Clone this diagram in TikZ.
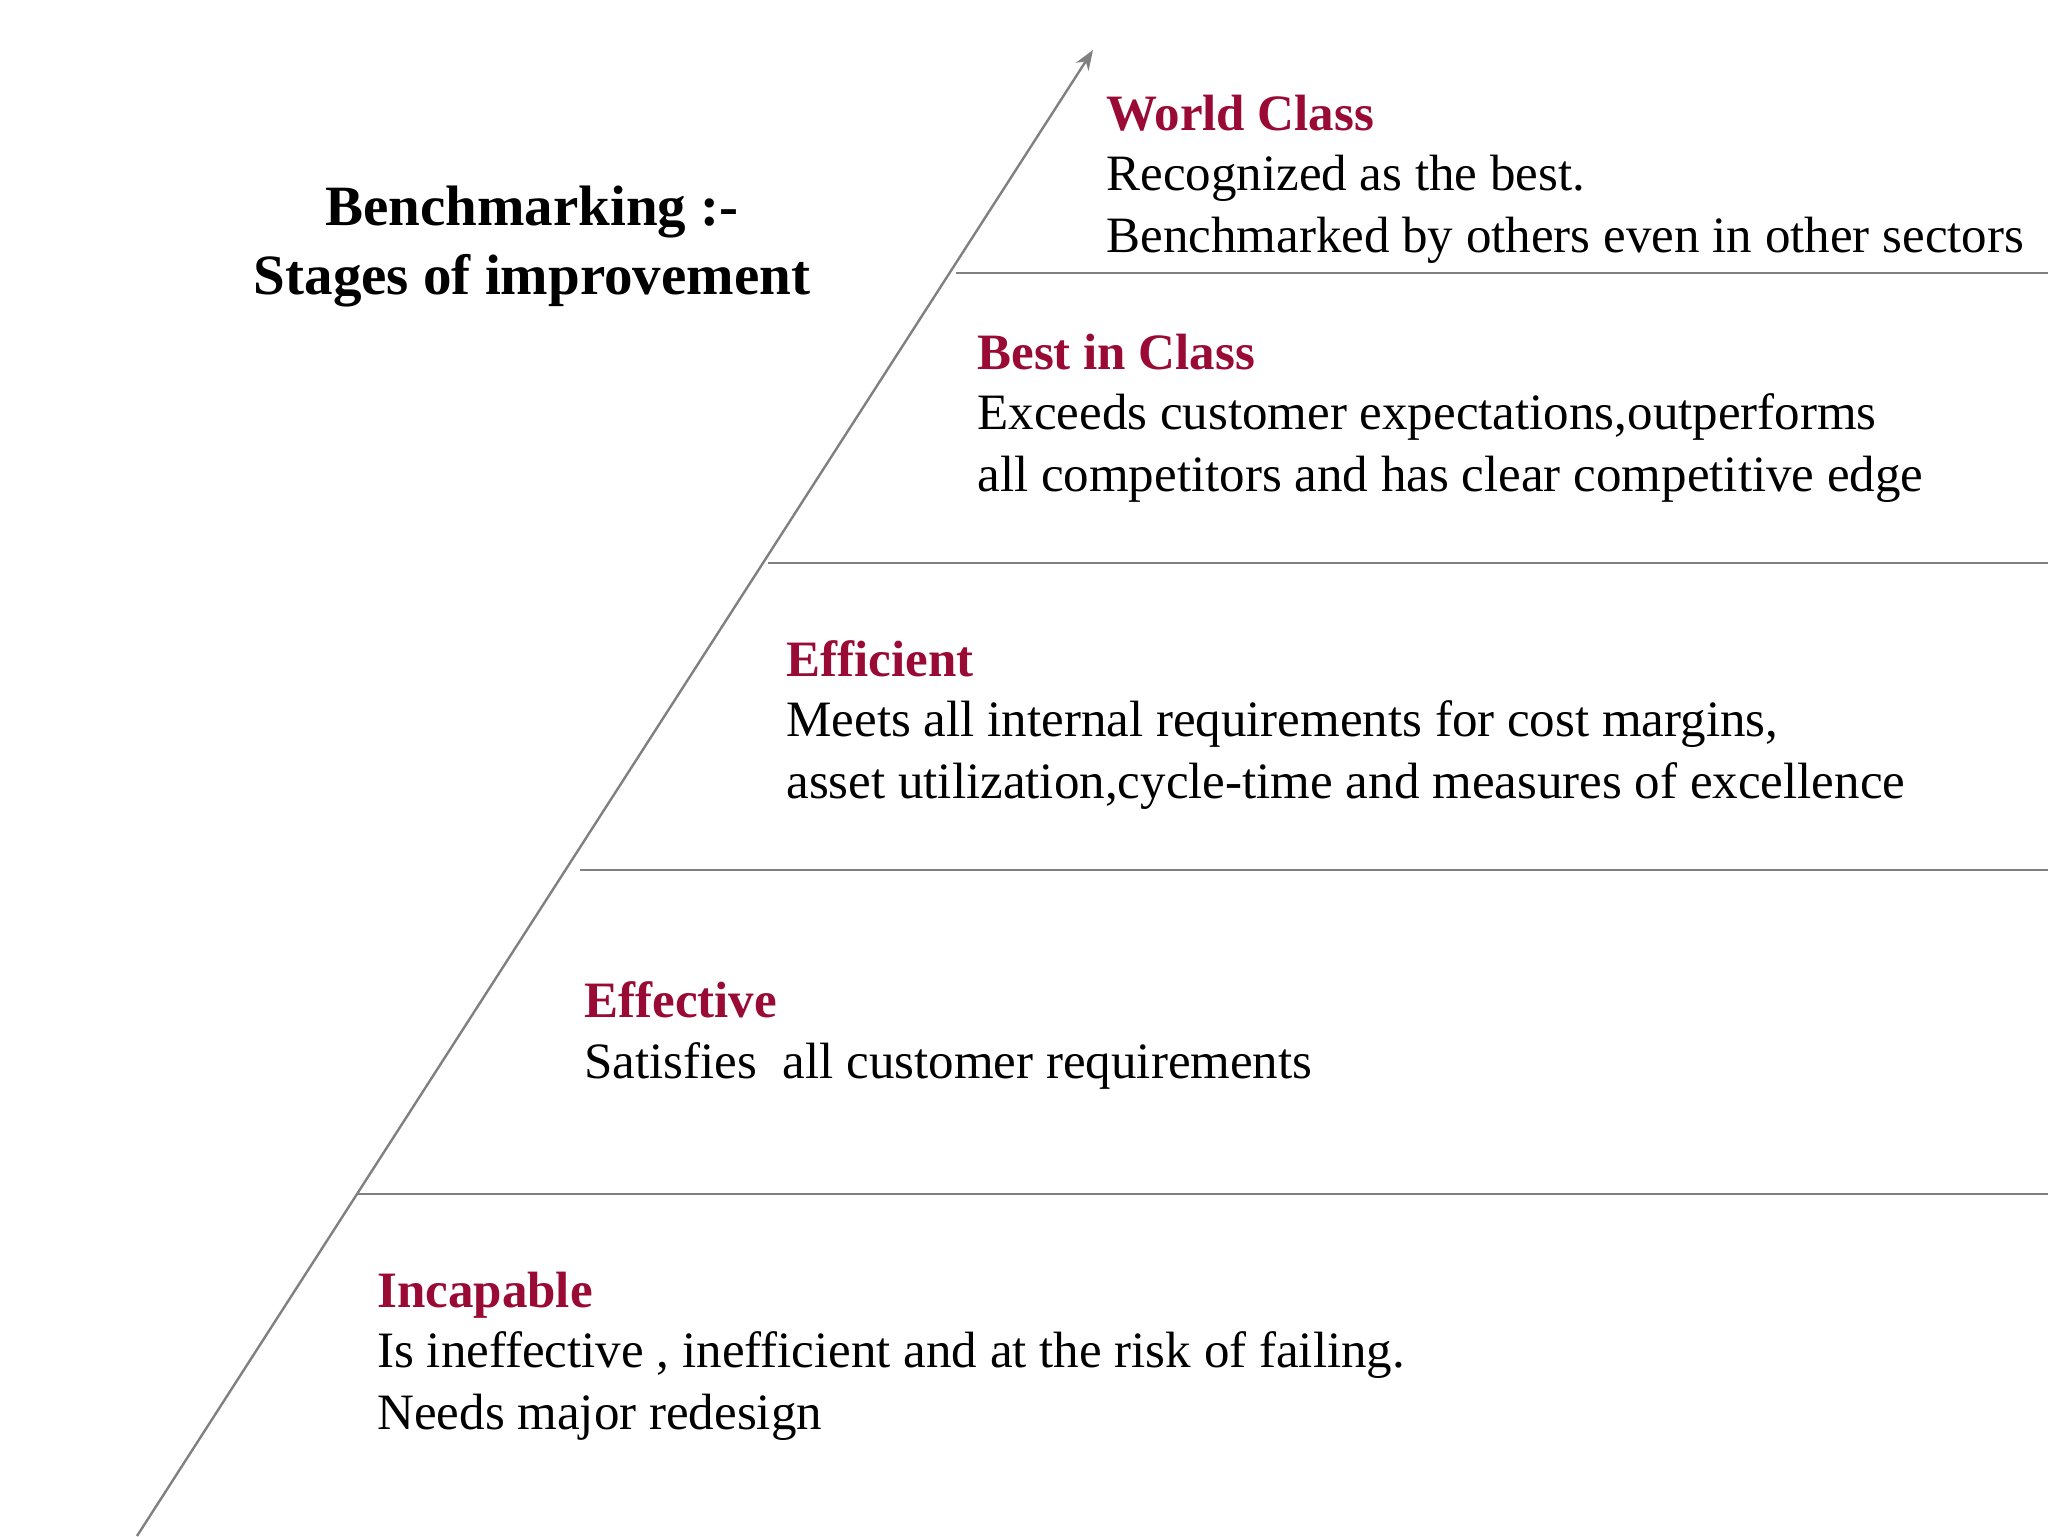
\documentclass[tikz,border=0pt]{standalone}
\usepackage{fontspec}
\setmainfont{Liberation Serif}
\usepackage{xcolor}
\usetikzlibrary{arrows.meta}
\usetikzlibrary{calc}

\definecolor{stagered}{RGB}{153,10,52}
\definecolor{rulegray}{RGB}{128,128,128}

\tikzset{
  stagehead/.style={anchor=base west, inner sep=0pt, text=stagered,
    font=\fontsize{25.5}{30.75}\selectfont\bfseries},
  stagetext/.style={anchor=base west, inner sep=0pt, align=left,
    font=\fontsize{25.5}{30.75}\selectfont},
  divider/.style={rulegray, line width=1.2pt},
}

\begin{document}
\begin{tikzpicture}[x=0.5pt, y=-0.5pt]
      \useasboundingbox (0,0) rectangle (2048,1536);

      % the rising arrow
      \coordinate(base) at (137,1536);
      \coordinate(tip) at (1093,50);
      \draw[rulegray, line width=1.2pt, -{Stealth[length=10pt, width=7.5pt]}] (base) -- (tip);

      % dividers (multi-line nodes sit on their last baseline)
      \foreach \name/\x/\y in {top/956/273, upper/768/563, middle/580/870, lower/358/1194}{
        \coordinate(\name L) at (\x,\y);
        \coordinate(\name R) at (2048,\y);
        \draw[divider] (\name L) -- (\name R);
      }

      % title
      \node[anchor=base, inner sep=0pt, align=center,
            font=\fontsize{28.5}{34.5}\selectfont\bfseries] (title) at (532,294)
            {Benchmarking :-\\Stages of improvement};

      % stages
      \node[stagehead] (world) at (1106,130) {World Class};
      \node[stagetext] (worldtxt) at (1106,252)
            {Recognized as the best.\\Benchmarked by others even in other sectors};

      \node[stagehead] (best) at (977,369) {Best in Class};
      \node[stagetext] (besttxt) at (977,491)
            {Exceeds customer expectations,outperforms\\all competitors and has clear competitive edge};

      \node[stagehead] (efficient) at (786,676) {Efficient};
      \node[stagetext] (efficienttxt) at (786,798)
            {Meets all internal requirements for cost margins,\\asset utilization,cycle-time and measures of excellence};

      \node[stagehead] (effective) at (584,1017) {Effective};
      \node[stagetext] (effectivetxt) at (584,1078)
            {Satisfies\ \ all customer requirements};

      \node[stagehead] (incapable) at (377,1307) {Incapable};
      \node[stagetext] (incapabletxt) at (377,1429)
            {Is ineffective , inefficient and at the risk of failing.\\Needs major redesign};
\end{tikzpicture}
\end{document}
